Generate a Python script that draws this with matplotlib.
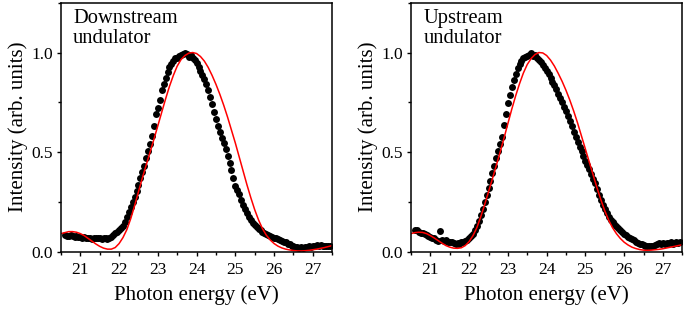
import numpy as np
import matplotlib.pyplot as plt
from matplotlib.ticker import MultipleLocator

plt.rcParams['font.family'] = ['Liberation Serif', 'DejaVu Serif']
plt.rcParams['mathtext.fontset'] = 'stix'

# measured photon energies (eV), 0.05 eV step
energy = np.round(np.arange(20.60, 27.451, 0.05), 2)

# downstream undulator, measured intensity
down_meas = [
    0.082, 0.080, 0.078, 0.082, 0.076, 0.074, 0.077, 0.072, 0.075, 0.070,
    0.072, 0.068, 0.066, 0.070, 0.064, 0.068, 0.066, 0.070, 0.066, 0.064,
    0.070, 0.066, 0.062, 0.068, 0.075, 0.085, 0.092, 0.100, 0.110, 0.118,
    0.130, 0.150, 0.175, 0.200, 0.225, 0.250, 0.275, 0.305, 0.335, 0.370,
    0.400, 0.430, 0.470, 0.505, 0.540, 0.580, 0.630, 0.690, 0.720, 0.760,
    0.810, 0.840, 0.870, 0.900, 0.925, 0.940, 0.955, 0.970, 0.975, 0.985,
    0.990, 0.995, 1.000, 0.995, 0.980, 0.990, 0.975, 0.960, 0.945, 0.925,
    0.905, 0.885, 0.865, 0.840, 0.810, 0.775, 0.740, 0.700, 0.665, 0.630,
    0.600, 0.570, 0.545, 0.515, 0.480, 0.445, 0.410, 0.370, 0.330, 0.310,
    0.290, 0.260, 0.235, 0.215, 0.195, 0.175, 0.160, 0.145, 0.135, 0.125,
    0.115, 0.108, 0.100, 0.095, 0.090, 0.085, 0.078, 0.073, 0.070, 0.066,
    0.062, 0.058, 0.055, 0.050, 0.046, 0.040, 0.036, 0.030, 0.028, 0.025,
    0.022, 0.020, 0.022, 0.020, 0.024, 0.022, 0.026, 0.024, 0.028, 0.030,
    0.034, 0.030, 0.032, 0.028, 0.030, 0.026, 0.030, 0.028,
]

# upstream undulator, measured intensity
up_meas = [
    0.110, 0.108, 0.100, 0.095, 0.092, 0.088, 0.085, 0.080, 0.074, 0.070,
    0.066, 0.060, 0.055, 0.104, 0.058, 0.052, 0.056, 0.050, 0.046, 0.048,
    0.042, 0.040, 0.044, 0.040, 0.046, 0.048, 0.052, 0.058, 0.066, 0.076,
    0.090, 0.106, 0.128, 0.155, 0.185, 0.215, 0.250, 0.285, 0.320, 0.355,
    0.395, 0.430, 0.470, 0.505, 0.540, 0.575, 0.635, 0.690, 0.745, 0.785,
    0.825, 0.860, 0.890, 0.920, 0.940, 0.955, 0.970, 0.978, 0.985, 0.990,
    0.998, 0.985, 0.990, 0.975, 0.960, 0.950, 0.935, 0.920, 0.905, 0.890,
    0.870, 0.850, 0.835, 0.815, 0.790, 0.770, 0.750, 0.725, 0.705, 0.680,
    0.655, 0.630, 0.600, 0.575, 0.550, 0.525, 0.505, 0.480, 0.455, 0.435,
    0.415, 0.390, 0.365, 0.345, 0.315, 0.285, 0.260, 0.235, 0.215, 0.195,
    0.175, 0.160, 0.148, 0.138, 0.128, 0.118, 0.108, 0.098, 0.090, 0.082,
    0.075, 0.068, 0.062, 0.056, 0.050, 0.045, 0.040, 0.036, 0.034, 0.030,
    0.028, 0.026, 0.030, 0.028, 0.034, 0.038, 0.042, 0.040, 0.044, 0.040,
    0.045, 0.042, 0.046, 0.040, 0.044, 0.046, 0.042, 0.046,
]

# calculated spectra, 0.1 eV step
calc_energy = np.round(np.arange(20.5, 27.51, 0.1), 1)

down_calc = [
    0.090, 0.095, 0.100, 0.100, 0.097, 0.090, 0.080, 0.066, 0.052, 0.038,
    0.026, 0.017, 0.012, 0.012, 0.020, 0.040, 0.070, 0.110, 0.165, 0.230,
    0.300, 0.370, 0.435, 0.500, 0.565, 0.632, 0.700, 0.767, 0.830, 0.885,
    0.932, 0.965, 0.985, 0.997, 1.000, 0.995, 0.980, 0.957, 0.925, 0.885,
    0.840, 0.790, 0.735, 0.675, 0.610, 0.545, 0.475, 0.405, 0.335, 0.270,
    0.210, 0.158, 0.115, 0.082, 0.058, 0.040, 0.027, 0.018, 0.012, 0.008,
    0.005, 0.003, 0.003, 0.004, 0.006, 0.009, 0.012, 0.016, 0.020, 0.025,
    0.030,
]

up_calc = [
    0.090, 0.095, 0.097, 0.096, 0.090, 0.080, 0.068, 0.055, 0.042, 0.030,
    0.022, 0.017, 0.016, 0.019, 0.030, 0.050, 0.080, 0.120, 0.175, 0.235,
    0.300, 0.365, 0.432, 0.500, 0.570, 0.643, 0.715, 0.782, 0.843, 0.897,
    0.940, 0.970, 0.990, 1.000, 0.998, 0.985, 0.962, 0.932, 0.895, 0.855,
    0.810, 0.760, 0.705, 0.645, 0.580, 0.515, 0.450, 0.385, 0.320, 0.260,
    0.205, 0.158, 0.120, 0.090, 0.066, 0.047, 0.033, 0.022, 0.015, 0.010,
    0.007, 0.006, 0.007, 0.009, 0.011, 0.014, 0.018, 0.022, 0.026, 0.030,
    0.034,
]

panels = [
    ('Downstream\nundulator', down_meas, down_calc),
    ('Upstream\nundulator', up_meas, up_calc),
]
lefts = [0.089, 0.600]

fig = plt.figure(figsize=(6.85, 3.09), dpi=100)

for (label, meas, calc), left in zip(panels, lefts):
    ax = fig.add_axes([left, 0.186, 0.396, 0.805])
    ax.plot(energy, meas, 'o', color='black', ms=5, mec='none')
    ax.plot(calc_energy, calc, color='red', lw=1.1)
    ax.set_xlim(20.5, 27.5)
    ax.set_ylim(0, 1.25)
    ax.xaxis.set_major_locator(MultipleLocator(1))
    ax.xaxis.set_minor_locator(MultipleLocator(0.5))
    ax.yaxis.set_major_locator(MultipleLocator(0.5))
    ax.yaxis.set_minor_locator(MultipleLocator(0.25))
    ax.tick_params(which='both', direction='out', labelsize=12.5, width=1.0)
    ax.tick_params(axis='x', pad=4.5)
    ax.tick_params(axis='y', pad=2.5)
    ax.tick_params(which='major', length=3)
    ax.tick_params(which='minor', length=2)
    for s in ax.spines.values():
        s.set_linewidth(1.1)
    ax.set_xlabel('Photon energy (eV)', fontsize=15, labelpad=5)
    ax.set_ylabel('Intensity (arb. units)', fontsize=15, labelpad=3)
    ax.text(0.045, 0.975, label, transform=ax.transAxes, fontsize=14.8,
            va='top', ha='left', linespacing=1.1)

fig.savefig('out.png', dpi=100)
